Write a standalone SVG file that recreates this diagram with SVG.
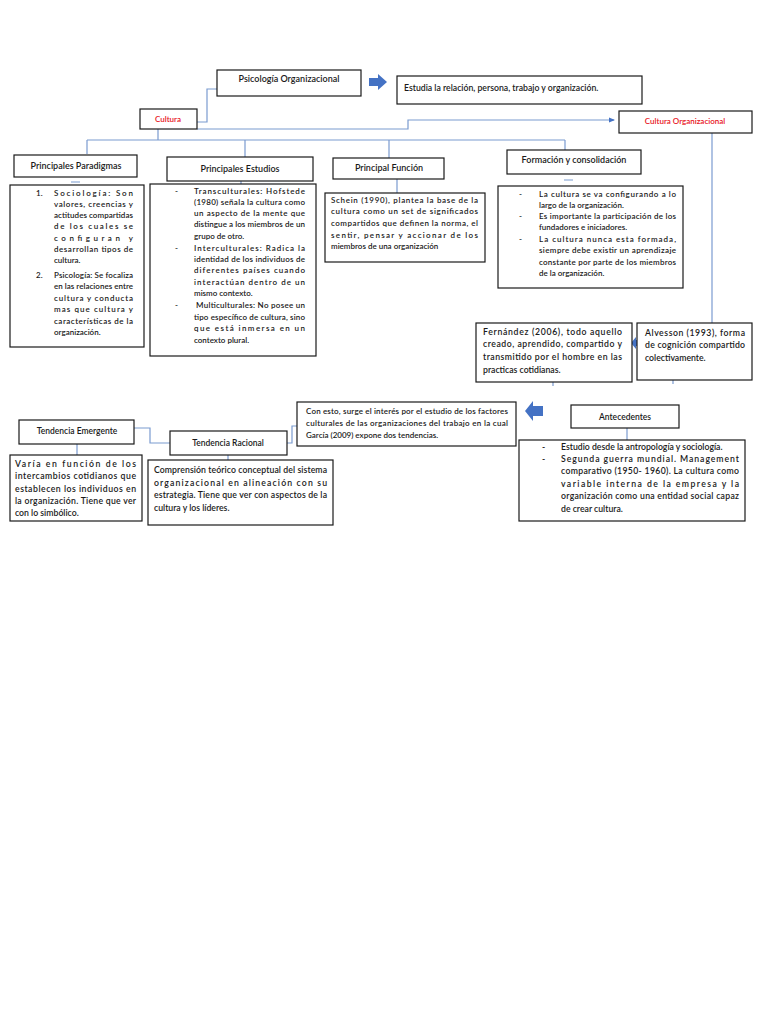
<svg xmlns="http://www.w3.org/2000/svg" width="768" height="1024" viewBox="0 0 768 1024">
<style>
.bx{fill:#fff;stroke:#1a1a1a;stroke-width:1.2}
.t{font-family:Lato,"Open Sans",sans-serif;fill:#1a1a1a;font-weight:600}
.h{font-size:9px;text-anchor:middle}
.b{font-size:8px}
.m{font-size:8.7px}
.red{fill:#e8141c}
.c{fill:none;stroke:#7b9bd0;stroke-width:1.2}
.blk{fill:#4472c4}
</style>
<defs>
<marker id="ah" markerWidth="6" markerHeight="6" refX="5" refY="3" orient="auto" markerUnits="userSpaceOnUse"><path d="M0,0.5 L6,3 L0,5.5 z" fill="#4472c4"/></marker>
</defs>
<rect width="768" height="1024" fill="#fff"/>

<g id="connectors">
<path class="c" d="M197,122 H207 V89 H217"/>
<path class="c" d="M197,129 H408 V120 H614" marker-end="url(#ah)"/>
<path class="c" d="M158,129 V140 M87,140 H565 M87,140 V154 M245,140 V157 M389,140 V158 M565,140 V150"/>
<path class="c" d="M71,182 H80 M564,180 H573 M241,181 V184 M397,179 V193"/>
<path class="c" d="M712,133 V323"/>
<path class="c" d="M553,382 V386 M673,380 V384"/>
<path class="c" d="M627,428 V440"/>
<path class="c" d="M134,428 H150 V443 H170"/>
<path class="c" d="M287,443 H292 V426 H297"/>
<path class="c" d="M77,444 V455 M228,455 V464"/>
<path class="blk" d="M369,78 H378 V74 L387,82 L378,90 V86 H369 z"/>
<path class="blk" d="M543,406 H533 V401 L525,411 L533,421 V416 H543 z"/>
<path class="blk" d="M640,340 H636 V337 L631,343 L636,349 V346 H640 z"/>
</g>

<g id="psicologia">
<rect class="bx" x="217" y="70" width="144" height="26"/>
<text class="t h" x="289" y="82">Psicología Organizacional</text>
</g>
<g id="estudia">
<rect class="bx" x="397" y="76" width="245" height="28"/>
<text class="t m" x="404" y="91">Estudia la relación, persona, trabajo y organización.</text>
</g>
<g id="cultura">
<rect class="bx" x="140" y="109" width="57" height="20"/>
<text class="t h red" x="168" y="122" style="font-size:8px">Cultura</text>
</g>
<g id="cultura-org">
<rect class="bx" x="619" y="111" width="133" height="22"/>
<text class="t h red" x="685" y="124" style="font-size:8px">Cultura Organizacional</text>
</g>

<g id="paradigmas">
<rect class="bx" x="14" y="155" width="123" height="22"/>
<text class="t h" x="76" y="169">Principales Paradigmas</text>
</g>
<g id="estudios">
<rect class="bx" x="167" y="157" width="146" height="24"/>
<text class="t h" x="240" y="172">Principales Estudios</text>
</g>
<g id="funcion">
<rect class="bx" x="333" y="158" width="111" height="21"/>
<text class="t h" x="389" y="171">Principal Función</text>
</g>
<g id="formacion">
<rect class="bx" x="507" y="150" width="134" height="24"/>
<text class="t h" x="574" y="163">Formación y consolidación</text>
</g>

<g id="paradigmas-texto">
<rect class="bx" x="10" y="185" width="134" height="162"/>
<g class="t b">
<text x="36" y="196">1.</text>
<text x="54" y="196" textLength="79" lengthAdjust="spacing">Sociología: Son</text>
<text x="54" y="207" textLength="79" lengthAdjust="spacing">valores, creencias y</text>
<text x="54" y="218" textLength="79" lengthAdjust="spacing">actitudes compartidas</text>
<text x="54" y="229" textLength="79" lengthAdjust="spacing">de los cuales se</text>
<text x="54" y="241" textLength="79" lengthAdjust="spacing">configuran y</text>
<text x="54" y="252" textLength="79" lengthAdjust="spacing">desarrollan tipos de</text>
<text x="54" y="263">cultura.</text>
<text x="36" y="278">2.</text>
<text x="54" y="278" textLength="79" lengthAdjust="spacing">Psicología: Se focaliza</text>
<text x="54" y="289" textLength="79" lengthAdjust="spacing">en las relaciones entre</text>
<text x="54" y="301" textLength="79" lengthAdjust="spacing">cultura y conducta</text>
<text x="54" y="312" textLength="79" lengthAdjust="spacing">mas que cultura y</text>
<text x="54" y="324" textLength="79" lengthAdjust="spacing">características de la</text>
<text x="54" y="335">organización.</text>
</g>
</g>

<g id="estudios-texto">
<rect class="bx" x="150" y="184" width="166" height="172"/>
<g class="t b">
<text x="175" y="194">-</text>
<text x="194" y="194" textLength="111" lengthAdjust="spacing">Transculturales: Hofstede</text>
<text x="194" y="205" textLength="111" lengthAdjust="spacing">(1980) señala la cultura como</text>
<text x="194" y="216" textLength="111" lengthAdjust="spacing">un aspecto de la mente que</text>
<text x="194" y="227" textLength="111" lengthAdjust="spacing">distingue a los miembros de un</text>
<text x="194" y="239">grupo de otro.</text>
<text x="175" y="251">-</text>
<text x="194" y="251" textLength="111" lengthAdjust="spacing">Interculturales: Radica la</text>
<text x="194" y="262" textLength="111" lengthAdjust="spacing">identidad de los individuos de</text>
<text x="194" y="273" textLength="111" lengthAdjust="spacing">diferentes países cuando</text>
<text x="194" y="285" textLength="111" lengthAdjust="spacing">interactúan dentro de un</text>
<text x="194" y="296">mismo contexto.</text>
<text x="175" y="308">-</text>
<text x="196" y="308" textLength="109" lengthAdjust="spacing">Multiculturales: No posee un</text>
<text x="194" y="320" textLength="111" lengthAdjust="spacing">tipo específico de cultura, sino</text>
<text x="194" y="331" textLength="111" lengthAdjust="spacing">que está inmersa en un</text>
<text x="194" y="343">contexto plural.</text>
</g>
</g>

<g id="funcion-texto">
<rect class="bx" x="325" y="193" width="160" height="69"/>
<g class="t b">
<text x="331" y="203" textLength="147" lengthAdjust="spacing">Schein (1990), plantea la base de la</text>
<text x="331" y="214" textLength="147" lengthAdjust="spacing">cultura como un set de significados</text>
<text x="331" y="226" textLength="147" lengthAdjust="spacing">compartidos que definen la norma, el</text>
<text x="331" y="238" textLength="147" lengthAdjust="spacing">sentir, pensar y accionar de los</text>
<text x="331" y="249">miembros de una organización</text>
</g>
</g>

<g id="formacion-texto">
<rect class="bx" x="498" y="186" width="185" height="102"/>
<g class="t b">
<text x="519" y="197">-</text>
<text x="539" y="197" textLength="137" lengthAdjust="spacing">La cultura se va configurando a lo</text>
<text x="539" y="208">largo de la organización.</text>
<text x="519" y="219">-</text>
<text x="539" y="219" textLength="137" lengthAdjust="spacing">Es importante la participación de los</text>
<text x="539" y="230">fundadores e iniciadores.</text>
<text x="519" y="242">-</text>
<text x="539" y="242" textLength="137" lengthAdjust="spacing">La cultura nunca esta formada,</text>
<text x="539" y="253" textLength="137" lengthAdjust="spacing">siempre debe existir un aprendizaje</text>
<text x="539" y="265" textLength="137" lengthAdjust="spacing">constante por parte de los miembros</text>
<text x="539" y="276">de la organización.</text>
</g>
</g>

<g id="fernandez">
<rect class="bx" x="476" y="323" width="156" height="59"/>
<g class="t m">
<text x="483" y="335" textLength="139" lengthAdjust="spacing">Fernández (2006), todo aquello</text>
<text x="483" y="347" textLength="139" lengthAdjust="spacing">creado, aprendido, compartido y</text>
<text x="483" y="360" textLength="139" lengthAdjust="spacing">transmitido por el hombre en las</text>
<text x="483" y="373">practicas cotidianas.</text>
</g>
</g>

<g id="alvesson">
<rect class="bx" x="637" y="323" width="115" height="57"/>
<g class="t m">
<text x="645" y="336" textLength="100" lengthAdjust="spacing">Alvesson (1993), forma</text>
<text x="645" y="348" textLength="100" lengthAdjust="spacing">de cognición compartido</text>
<text x="645" y="361">colectivamente.</text>
</g>
</g>

<g id="con-esto">
<rect class="bx" x="297" y="402" width="219" height="44"/>
<g class="t b">
<text x="306" y="414" textLength="202" lengthAdjust="spacing">Con esto, surge el interés por el estudio de los factores</text>
<text x="306" y="426" textLength="202" lengthAdjust="spacing">culturales de las organizaciones del trabajo en la cual</text>
<text x="306" y="438">García (2009) expone dos tendencias.</text>
</g>
</g>

<g id="antecedentes">
<rect class="bx" x="571" y="405" width="108" height="23"/>
<text class="t h" x="625" y="420" style="font-size:8.5px">Antecedentes</text>
</g>
<g id="antecedentes-texto">
<rect class="bx" x="519" y="440" width="226" height="81"/>
<g class="t m">
<text x="542" y="450">-</text>
<text x="561" y="450">Estudio desde la antropología y sociología.</text>
<text x="542" y="462">-</text>
<text x="561" y="462" textLength="178" lengthAdjust="spacing">Segunda guerra mundial. Management</text>
<text x="561" y="474" textLength="178" lengthAdjust="spacing">comparativo (1950- 1960). La cultura como</text>
<text x="561" y="487" textLength="178" lengthAdjust="spacing">variable interna de la empresa y la</text>
<text x="561" y="499" textLength="178" lengthAdjust="spacing">organización como una entidad social capaz</text>
<text x="561" y="512">de crear cultura.</text>
</g>
</g>

<g id="tendencia-emergente">
<rect class="bx" x="19" y="420" width="115" height="24"/>
<text class="t h" x="77" y="434" style="font-size:8.5px">Tendencia Emergente</text>
</g>
<g id="tendencia-racional">
<rect class="bx" x="170" y="431" width="117" height="24"/>
<text class="t h" x="228" y="446" style="font-size:8.5px">Tendencia Racional</text>
</g>

<g id="emergente-texto">
<rect class="bx" x="10" y="455" width="132" height="66"/>
<g class="t m">
<text x="15" y="467" textLength="121" lengthAdjust="spacing">Varía en función de los</text>
<text x="15" y="479" textLength="121" lengthAdjust="spacing">intercambios cotidianos que</text>
<text x="15" y="492" textLength="121" lengthAdjust="spacing">establecen los individuos en</text>
<text x="15" y="504" textLength="121" lengthAdjust="spacing">la organización. Tiene que ver</text>
<text x="15" y="516">con lo simbólico.</text>
</g>
</g>

<g id="racional-texto">
<rect class="bx" x="148" y="460" width="185" height="65"/>
<g class="t m">
<text x="154" y="473" textLength="173" lengthAdjust="spacing">Comprensión teórico conceptual del sistema</text>
<text x="154" y="486" textLength="173" lengthAdjust="spacing">organizacional en alineación con su</text>
<text x="154" y="498" textLength="173" lengthAdjust="spacing">estrategia. Tiene que ver con aspectos de la</text>
<text x="154" y="511">cultura y los líderes.</text>
</g>
</g>
</svg>
